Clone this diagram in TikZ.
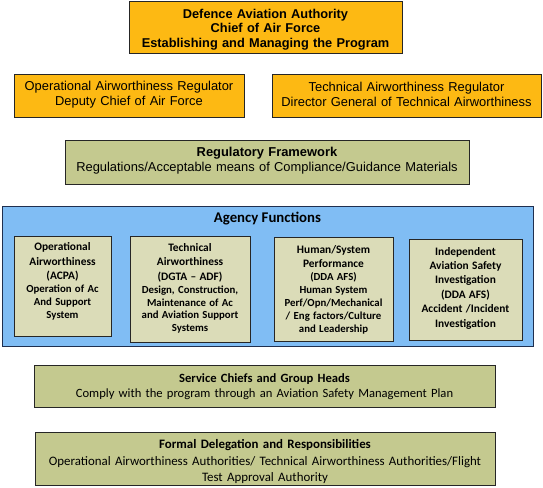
\documentclass[tikz,border=0pt]{standalone}
\usepackage{fontspec}
\setmainfont{Liberation Sans}
\newfontfamily\calfont{Carlito}
\definecolor{orangeF}{HTML}{FDB913}
\definecolor{oliveF}{HTML}{C4C98F}
\definecolor{paleF}{HTML}{DBDCB8}
\definecolor{blueF}{HTML}{80BDF4}
\definecolor{navyL}{HTML}{1F2F4F}
\definecolor{frameL}{HTML}{262626}
\newcommand{\afbig}{\fontsize{11.4}{14.4}\selectfont}
\newcommand{\afsmall}{\fontsize{10.8}{12.9}\selectfont}
\begin{document}
\begin{tikzpicture}[x=1pt,y=-1pt,
  frame/.style={draw=frameL, line width=1pt, inner sep=0pt},
  orangebox/.style={frame, fill=orangeF},
  olivebox/.style={frame, fill=oliveF},
  palebox/.style={frame, fill=paleF},
  bluebox/.style={draw=navyL, line width=1pt, fill=blueF, inner sep=0pt},
  txt/.style={align=center, inner sep=0pt, text width=#1},
  arialtxt/.style={font=\fontsize{12.9}{14.8}\selectfont},
  arialbold/.style={font=\fontsize{12.8}{14.5}\selectfont\bfseries},
  caltxt/.style={font=\calfont\fontsize{12.6}{15}\selectfont},
  calformal/.style={font=\calfont\fontsize{12.9}{16.5}\selectfont},
  afbox/.style={font=\calfont\bfseries}
]
\useasboundingbox (0,0) rectangle (543,487);
\fill[white] (0,0) rectangle (543,487);

% top level
\node[orangebox, minimum width=273pt, minimum height=52pt] (top) at (265.5,28) {};
\node[txt=300pt, arialbold] (toptext) at (265.5,29.5)
  {Defence Aviation Authority\\Chief of Air Force\\Establishing and Managing the Program};

% regulators
\node[orangebox, minimum width=230pt, minimum height=43pt] (opreg) at (129,95.5) {};
\node[txt=240pt, arialtxt] (opregtext) at (129,94.5)
  {Operational Airworthiness Regulator\\Deputy Chief of Air Force};
\node[orangebox, minimum width=269pt, minimum height=43pt] (techreg) at (406.5,95.5) {};
\node[txt=280pt, arialtxt] (techregtext) at (406.5,94.5)
  {Technical Airworthiness Regulator\\Director General of Technical Airworthiness};

% regulatory framework
\node[olivebox, minimum width=404pt, minimum height=44pt] (regfw) at (267,162) {};
\node[txt=420pt, arialtxt] (regfwtext) at (267,160.5)
  {\textbf{Regulatory Framework}\\Regulations/Acceptable means of Compliance/Guidance Materials};

% agency functions
\node[bluebox, minimum width=531pt, minimum height=140pt] (agency) at (267.5,276) {};
\node[inner sep=0pt, font=\calfont\bfseries\fontsize{14.8}{17}\selectfont] (agencytext) at (267.5,219) {Agency Functions};

\node[palebox, minimum width=97pt, minimum height=100pt] (af1) at (62.5,286) {};
\node[txt=110pt, afbox] (af1text) at (62.5,281.5)
  {{\afbig Operational\\Airworthiness\\(ACPA)\par}{\afsmall Operation of Ac\\And Support\\System\par}};

\node[palebox, minimum width=120pt, minimum height=106pt] (af2) at (190,289) {};
\node[txt=130pt, afbox] (af2text) at (190,288.5)
  {{\afbig Technical\\Airworthiness\\(DGTA – ADF)\par}{\afsmall Design, Construction,\\Maintenance of Ac\\and Aviation Support\\Systems\par}};

\node[palebox, minimum width=119pt, minimum height=104pt] (af3) at (333.5,289) {};
\node[txt=130pt, afbox] (af3text) at (333.5,289.5)
  {{\afbig Human/System\\Performance\par}{\afsmall (DDA AFS)\\Human System\\Perf/Opn/Mechanical\\/ Eng factors/Culture\\and Leadership\par}};

\node[palebox, minimum width=113pt, minimum height=101pt] (af4) at (465.5,289.5) {};
\node[txt=125pt, afbox] (af4text) at (465.5,288)
  {{\afbig Independent\\Aviation Safety\\Investigation\\(DDA AFS)\\Accident /Incident\\Investigation\par}};

% service chiefs
\node[olivebox, minimum width=461pt, minimum height=42pt] (service) at (264.5,386) {};
\node[txt=470pt, caltxt] (servicetext) at (264.5,386.5)
  {\textbf{Service Chiefs and Group Heads}\\Comply with the program through an Aviation Safety Management Plan};

% formal delegation
\node[olivebox, minimum width=460pt, minimum height=53pt] (formal) at (265,458.5) {};
\node[txt=470pt, calformal] (formaltext) at (265,461.5)
  {\textbf{Formal Delegation and Responsibilities}\\Operational Airworthiness Authorities/ Technical Airworthiness Authorities/Flight\\Test Approval Authority};
\end{tikzpicture}
\end{document}
